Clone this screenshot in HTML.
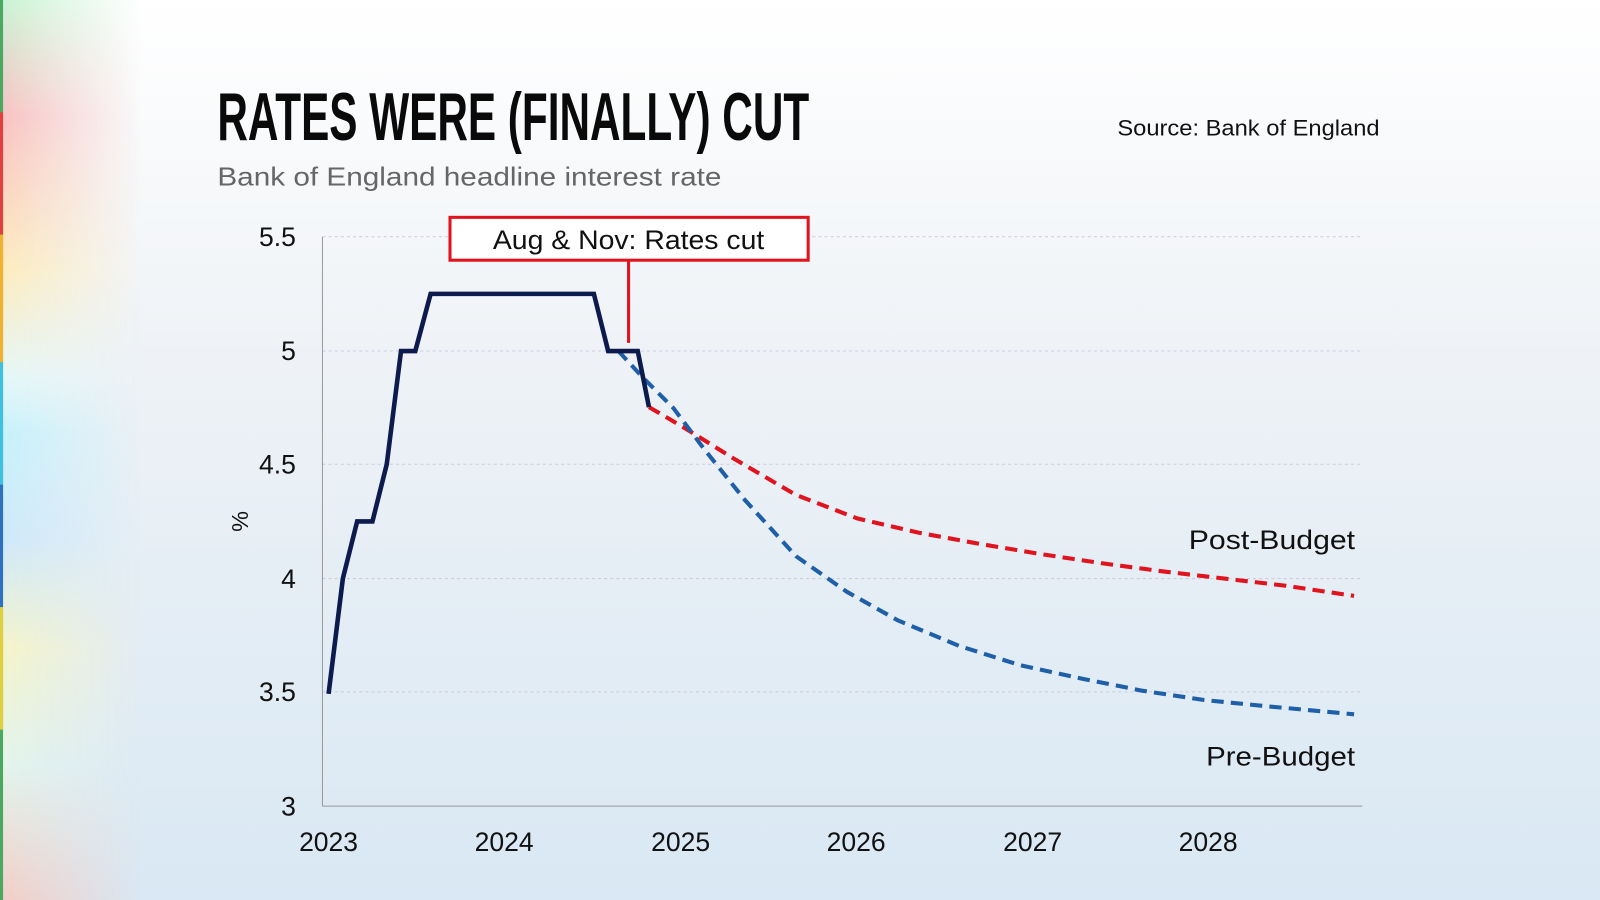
<!DOCTYPE html>
<html><head><meta charset="utf-8"><style>html,body{margin:0;padding:0;width:1600px;height:900px;overflow:hidden}</style></head>
<body>
<svg width="1600" height="900" viewBox="0 0 1568 882" preserveAspectRatio="none" xmlns="http://www.w3.org/2000/svg" font-family="Liberation Sans, sans-serif">
<defs>
<linearGradient id="bg" x1="0" y1="0" x2="0" y2="1">
<stop offset="0" stop-color="#ffffff"/><stop offset="0.4" stop-color="#eef2f6"/><stop offset="1" stop-color="#d9e8f4"/>
</linearGradient>
<linearGradient id="edge" x1="0" y1="0" x2="0" y2="1">
<stop offset="0" stop-color="#c8f3d2"/><stop offset="0.13" stop-color="#f8c0c0"/><stop offset="0.3" stop-color="#fdebbc"/><stop offset="0.42" stop-color="#e4f7f7"/><stop offset="0.48" stop-color="#c6f1fb"/><stop offset="0.6" stop-color="#cde8fa"/><stop offset="0.72" stop-color="#f5f4c8"/><stop offset="0.85" stop-color="#e2f4ec"/><stop offset="1" stop-color="#f3cdc4"/>
</linearGradient>
<linearGradient id="fadeM" x1="0" y1="0" x2="1" y2="0"><stop offset="0" stop-color="#fff"/><stop offset="0.3" stop-color="#aaa"/><stop offset="1" stop-color="#000"/></linearGradient>
<mask id="m" maskUnits="userSpaceOnUse" x="0" y="0" width="140" height="882"><rect width="140" height="882" fill="url(#fadeM)"/></mask>
</defs>
<rect width="1568" height="882" fill="url(#bg)"/>
<rect width="140" height="882" fill="url(#edge)" mask="url(#m)"/>
<rect x="0" y="0" width="3" height="882" fill="#4aa860"/>
<rect x="0" y="110" width="3" height="120" fill="#e04040"/>
<rect x="0" y="230" width="3" height="125" fill="#f0b030"/>
<rect x="0" y="355" width="3" height="120" fill="#40c0e0"/>
<rect x="0" y="475" width="3" height="120" fill="#3070c0"/>
<rect x="0" y="595" width="3" height="120" fill="#e0d040"/>

<text x="213" y="137" font-family="Liberation Sans Narrow, Liberation Sans, sans-serif" font-weight="bold" font-size="66" textLength="580" lengthAdjust="spacingAndGlyphs" fill="#0a0a0a">RATES WERE (FINALLY) CUT</text>
<text x="213" y="182" font-size="25" fill="#666" textLength="494" lengthAdjust="spacingAndGlyphs">Bank of England headline interest rate</text>
<text x="1095" y="133" font-size="22" fill="#111" textLength="257" lengthAdjust="spacingAndGlyphs">Source: Bank of England</text>

<g stroke="#ccd" stroke-width="1" stroke-dasharray="3,3">
<line x1="316" y1="232" x2="1335" y2="232"/><line x1="316" y1="344" x2="1335" y2="344"/><line x1="316" y1="455" x2="1335" y2="455"/><line x1="316" y1="567" x2="1335" y2="567"/><line x1="316" y1="678" x2="1335" y2="678"/>
</g>
<line x1="316" y1="232" x2="316" y2="790" stroke="#999" stroke-width="1"/>
<line x1="316" y1="790" x2="1335" y2="790" stroke="#999" stroke-width="1"/>

<g font-size="26" fill="#111" text-anchor="end">
<text x="290" y="241">5.5</text><text x="290" y="353">5</text><text x="290" y="464">4.5</text><text x="290" y="576">4</text><text x="290" y="687">3.5</text><text x="290" y="799">3</text>
</g>
<text transform="translate(243,511) rotate(-90)" font-size="23" fill="#111" text-anchor="middle">%</text>
<g font-size="26" fill="#111" text-anchor="middle">
<text x="322" y="834">2023</text><text x="494" y="834">2024</text><text x="667" y="834">2025</text><text x="839" y="834">2026</text><text x="1012" y="834">2027</text><text x="1184" y="834">2028</text>
</g>

<polyline fill="none" stroke="#e0141e" stroke-width="4" stroke-dasharray="12,7" points="636,399 655,410 680,425 720,450 780,485 840,508 900,522 960,533 1020,543 1080,552 1140,560 1200,567 1260,574 1327,584"/>
<polyline fill="none" stroke="#1f5fa8" stroke-width="4" stroke-dasharray="12,7" points="606,344 630,370 660,400 690,440 730,490 780,545 830,580 880,608 940,633 1000,652 1060,665 1120,677 1180,686 1240,692 1327,700"/>
<polyline fill="none" stroke="#0c1a4e" stroke-width="4.5" stroke-linejoin="miter" points="322,680 336,567 350,511 365,511 379,455 393,344 407,344 422,288 582,288 596,344 625,344 636,399"/>

<rect x="441" y="213" width="351" height="42" fill="#fff" stroke="#e0141e" stroke-width="3"/>
<line x1="616" y1="255" x2="616" y2="336" stroke="#e0141e" stroke-width="3"/>
<text x="483" y="244" font-size="26" fill="#111" textLength="266" lengthAdjust="spacingAndGlyphs">Aug &amp; Nov: Rates cut</text>

<text x="1165" y="538" font-size="26" fill="#111" textLength="163" lengthAdjust="spacingAndGlyphs">Post-Budget</text>
<text x="1182" y="750" font-size="26" fill="#111" textLength="146" lengthAdjust="spacingAndGlyphs">Pre-Budget</text>
</svg>
</body></html>
